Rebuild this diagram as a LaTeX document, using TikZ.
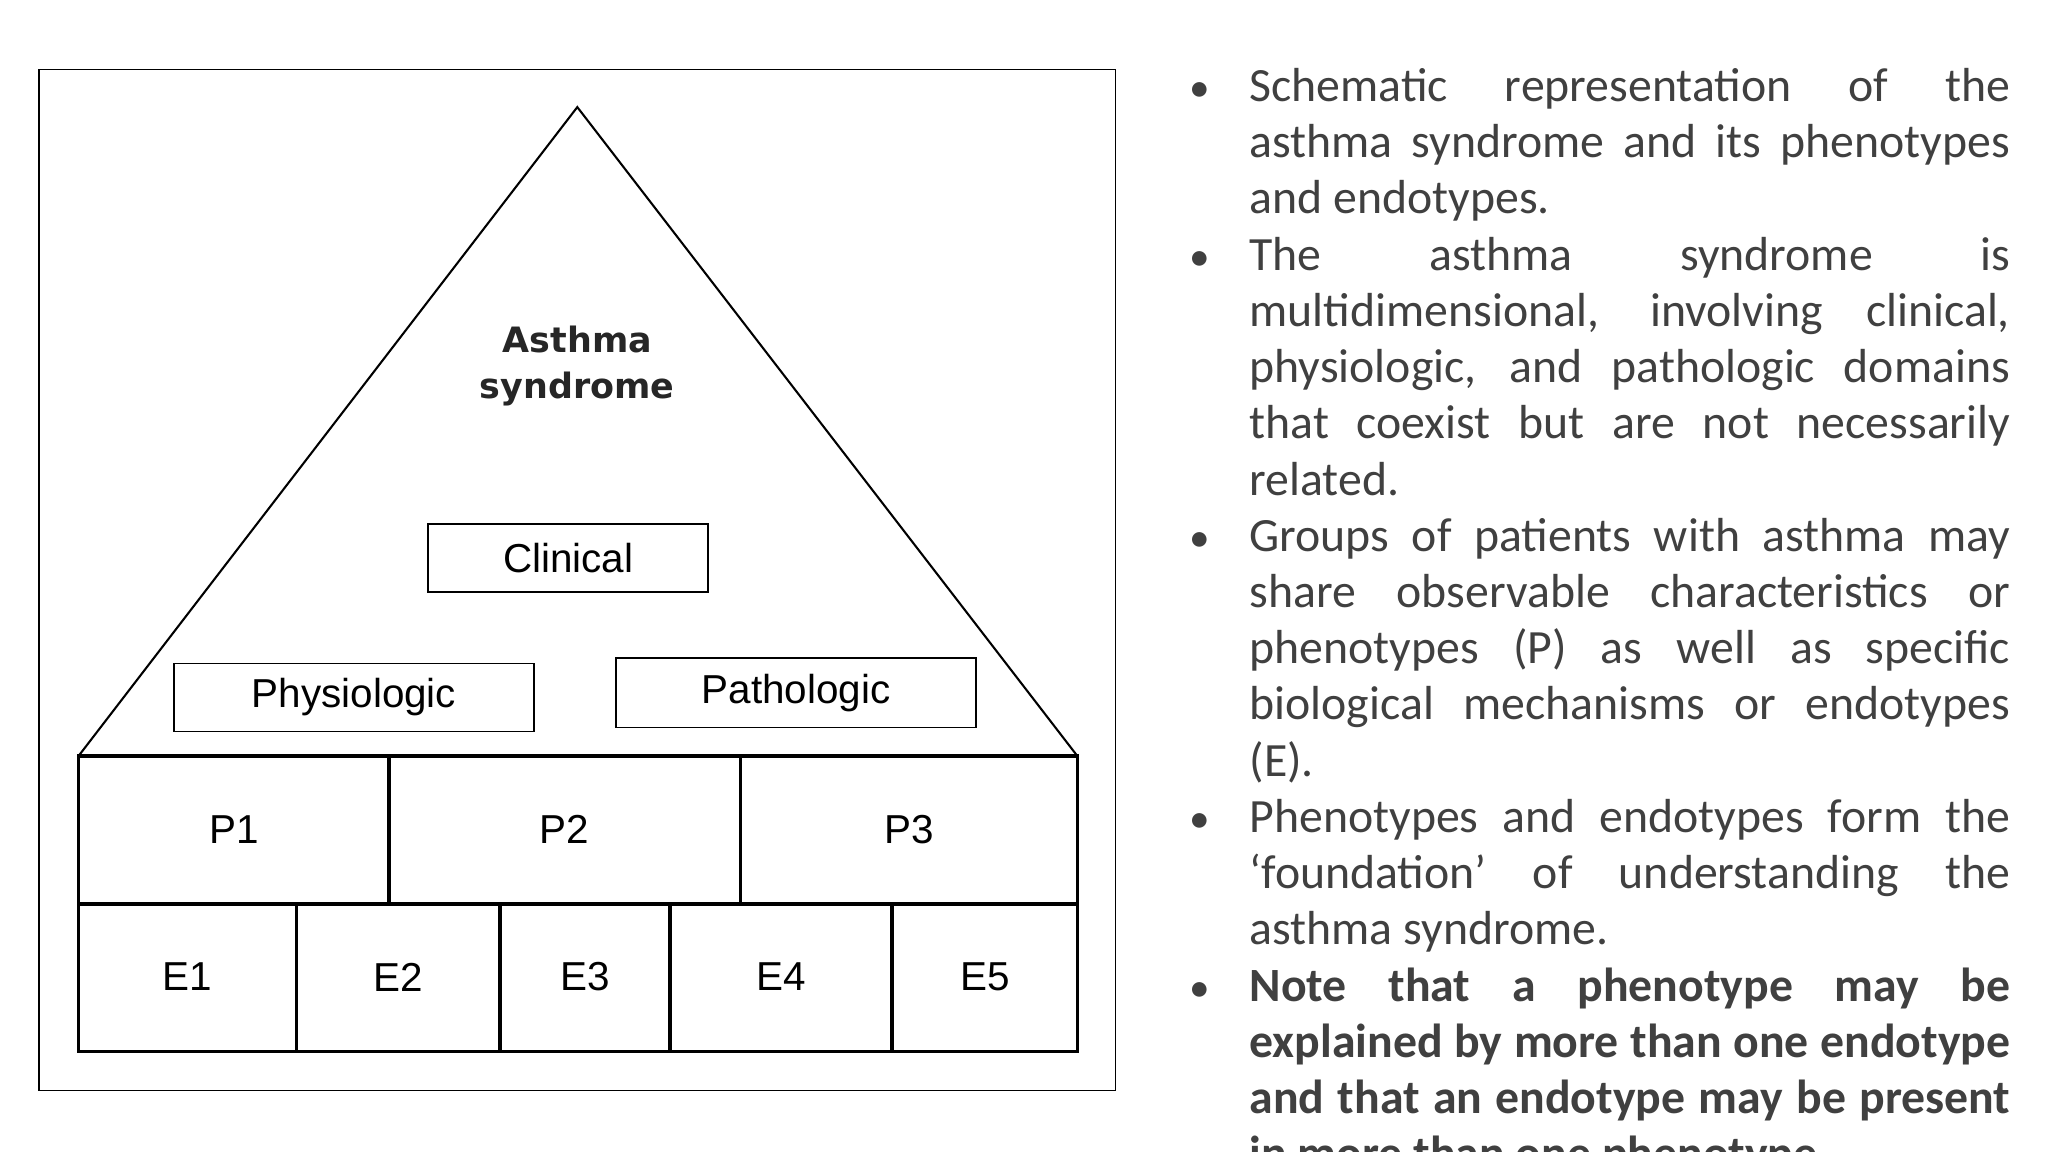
\documentclass[tikz,border=0pt]{standalone}
\usepackage{fontspec}
\setmainfont{Carlito}
\newfontfamily\diagfont{Liberation Sans}
\newfontfamily\titlefont{DejaVu Sans}
\usepackage{enumitem}
\begin{document}
\begin{tikzpicture}[x=0.01cm,y=-0.01cm,
	box/.style={draw,line width=0.4pt,inner sep=0pt,font=\diagfont\fontsize{8.8}{10}\selectfont},
	cell/.style={inner sep=0pt,font=\diagfont\fontsize{8.8}{10}\selectfont}]
	
	\useasboundingbox (0,0) rectangle (1568,882);
	\draw[line width=0.3pt] (30,53) rectangle (854,835);
	\coordinate (apex) at (442,82);
	\coordinate (bl) at (60,579);
	\coordinate (br) at (825,579);
	\draw[line width=0.45pt] (bl) -- (apex) -- (br);
	\node[font=\titlefont\bfseries\fontsize{7.6}{10}\selectfont,align=center,text=black!85] (title) at (442,280) {Asthma\\syndrome};
	\node[box,minimum width=2.14cm,minimum height=0.52cm] (clin) at (435,427) {Clinical};
	\node[box,minimum width=2.76cm,minimum height=0.52cm] (phys) at (271,534) {Physiologic};
	\node[box,minimum width=2.75cm,minimum height=0.53cm] (path) at (609.5,530.5) {Pathologic};
	
	% phenotype / endotype table
	\draw[line width=0.8pt] (bl) rectangle (825,805);
	\draw[line width=0.8pt] (60,692) -- (825,692);
	\foreach \x in {298,567} \draw[line width=0.8pt] (\x,579) -- (\x,692);
	\foreach \x in {227,383,513,683} \draw[line width=0.8pt] (\x,692) -- (\x,805);
	\node[cell] (p1) at (179,635) {P1};
	\node[cell] (p2) at (432,635) {P2};
	\node[cell] (p3) at (696,635) {P3};
	\node[cell] (e1) at (143,748) {E1};
	\node[cell] (e2) at (305,748) {E2};
	\node[cell] (e3) at (448,748) {E3};
	\node[cell] (e4) at (598,748) {E4};
	\node[cell] (e5) at (754,748) {E5};
	
	\node[anchor=north west,inner sep=0pt,text width=6.33cm,align=justify,
		font=\fontsize{10.4}{12.24}\selectfont,text=black!75] (notes) at (905,34) {%
		\hyphenpenalty=10000 \exhyphenpenalty=10000
		\begin{itemize}[label={\small\textbullet},leftmargin=0.51cm,labelsep=0.3cm,itemsep=0pt,parsep=0pt,topsep=0pt]
		\item Schematic representation of the asthma syndrome and its phenotypes and endotypes.
		\item The asthma syndrome is multidimensional, involving clinical, physiologic, and pathologic domains that coexist but are not necessarily related.
		\item Groups of patients with asthma may share observable characteristics or phenotypes (P) as well as specific biological mechanisms or endotypes (E).
		\item Phenotypes and endotypes form the `foundation' of understanding the asthma syndrome.
		\item \textbf{Note that a phenotype may be explained by more than one endotype and that an endotype may be present in more than one phenotype.}
		\end{itemize}};
	
\end{tikzpicture}
\end{document}
